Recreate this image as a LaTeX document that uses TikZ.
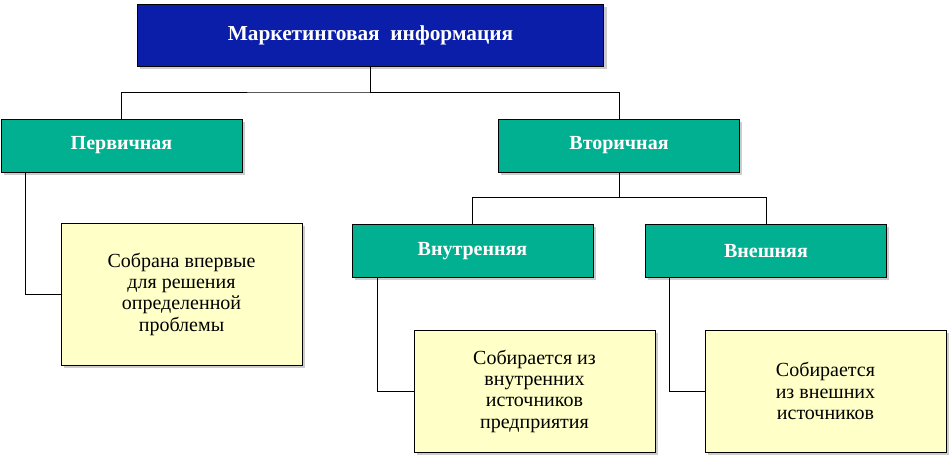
\documentclass[tikz,border=0pt]{standalone}
\usepackage{fontspec}
\setmainfont{Liberation Serif}
\usetikzlibrary{positioning,shadows}
\definecolor{navy}{RGB}{10,30,170}
\definecolor{teal}{RGB}{0,176,144}
\definecolor{paleyellow}{RGB}{255,255,200}
\begin{document}
\begin{tikzpicture}[x=0.75pt,y=-0.75pt,semithick,
head/.style={rectangle, draw, fill=navy, text=white, font=\fontsize{16}{18}\selectfont\bfseries, drop shadow={opacity=0.4,shadow xshift=2pt,shadow yshift=-2pt}},
kind/.style={rectangle, draw, fill=teal, text=white, minimum width=180.75pt, minimum height=39.75pt, font=\fontsize{15}{17}\selectfont\bfseries, drop shadow={opacity=0.4,shadow xshift=2pt,shadow yshift=-2pt}},
note/.style={rectangle, draw, fill=paleyellow, minimum width=180.75pt, align=center, font=\fontsize{15}{16}\selectfont, drop shadow={opacity=0.4,shadow xshift=2pt,shadow yshift=-2pt}}]
\useasboundingbox (0,0) rectangle (951,456);
\node[head, minimum width=350pt, minimum height=47pt](info) at (370.5,35.5){Маркетинговая\ \ информация};
\node[kind](prim) at (121.5,145.5){Первичная};
\node[kind](sec) at (619,145.5){Вторичная};
\node[kind](inner) at (472.5,251){Внутренняя};
\node[kind](outer) at (766,251){Внешняя};
\node[note, minimum height=106.5pt](n1) at (181.5,294){Собрана впервые\\для решения\\определенной\\проблемы};
\node[note, minimum height=91.5pt](n2) at (534.5,391){Собирается из\\внутренних\\источников\\предприятия};
\node[note, minimum height=91.5pt](n3) at (825.5,391){Собирается\\из внешних\\источников};

% tree connectors
\draw (info.south) |- (370,92) -| (prim.north);
\draw (370,92) -| (sec.north);
\draw (sec.south) |- (619,197) -| (inner.north);
\draw (619,197) -| (outer.north);
\draw (prim.south -| 25,0) |- (n1.west);
\draw (inner.south -| 377,0) |- (n2.west);
\draw (outer.south -| 669,0) |- (n3.west);
\end{tikzpicture}
\end{document}
